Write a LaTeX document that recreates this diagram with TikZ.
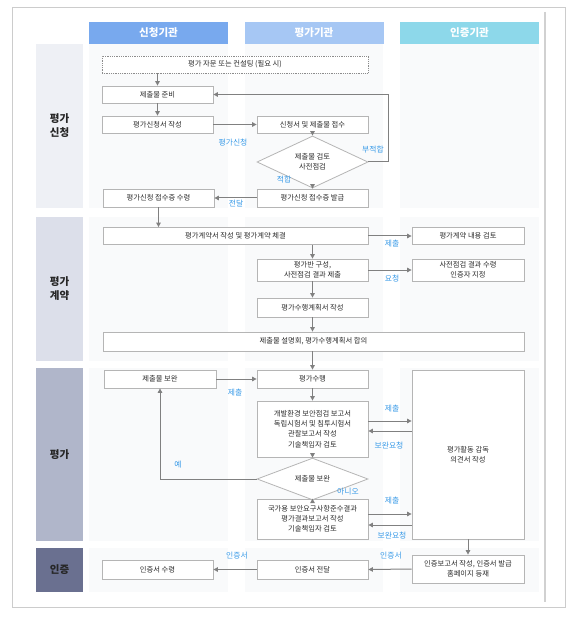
\documentclass[tikz,border=0pt]{standalone}
\usepackage{fontspec}
\setmainfont{Noto Sans CJK KR}
\usetikzlibrary{arrows.meta,shapes.geometric}
\definecolor{hdrA}{HTML}{78A9EE}
\definecolor{hdrB}{HTML}{A6C7F4}
\definecolor{hdrC}{HTML}{8DD8EA}
\definecolor{rowA}{HTML}{EEF0F5}
\definecolor{rowB}{HTML}{DCDFEA}
\definecolor{rowC}{HTML}{B0B6CA}
\definecolor{rowD}{HTML}{6A7090}
\definecolor{cellbg}{HTML}{F9FAFB}
\definecolor{boxline}{HTML}{B5B5B5}
\definecolor{arrowgray}{HTML}{808080}
\definecolor{lblblue}{HTML}{3A9BE8}
\definecolor{txt}{HTML}{2A2A2A}
\tikzset{
  boxnode/.style={draw=boxline, line width=0.8pt, fill=white, inner sep=0pt, align=center,
    text=txt, font=\fontsize{7.3}{10.2}\selectfont},
  dianode/.style={diamond, draw=boxline, line width=0.8pt, fill=white, inner sep=0pt, align=center,
    text=txt, font=\fontsize{7.3}{10.2}\selectfont},
  hdr/.style={inner sep=0pt, minimum width=139pt, minimum height=22pt, text=white,
    font=\fontsize{10.5}{12}\selectfont\bfseries},
  rowlbl/.style={inner sep=0pt, minimum width=47pt, align=center, text=black!85,
    font=\fontsize{10.5}{14}\selectfont\bfseries},
  lbl/.style={inner sep=0pt, text=lblblue, font=\fontsize{7.8}{9}\selectfont},
  arr/.style={draw=arrowgray, line width=1pt, -{Triangle[length=4.5pt,width=4.5pt]}},
}
\begin{document}
\begin{tikzpicture}[x=1pt,y=-1pt]
\useasboundingbox (0,0) rectangle (575,617);
\fill[white] (0,0) rectangle (575,617);
% outer frame
\draw[draw=black!20, line width=1pt] (12,8) rectangle (565,607);
\draw[draw=black!18, line width=1.5pt] (545,12) -- (545,602);
% background cells
\foreach \xa/\xb in {89/228,245/383,400/539}{
  \foreach \ya/\yb in {44/208,217/361,368/541,548/592}{
    \fill[cellbg] (\xa,\ya) rectangle (\xb,\yb);
  }
}
% headers
\node[hdr, fill=hdrA] (h1) at (158.5,33) {신청기관};
\node[hdr, fill=hdrB] (h2) at (314,33) {평가기관};
\node[hdr, fill=hdrC] (h3) at (469.5,33) {인증기관};
% row labels
\node[rowlbl, fill=rowA, minimum height=164pt] (r1) at (59.5,126) {평가\\신청};
\node[rowlbl, fill=rowB, minimum height=144pt] (r2) at (59.5,289) {평가\\계약};
\node[rowlbl, fill=rowC, minimum height=173pt] (r3) at (59.5,454.5) {평가};
\node[rowlbl, fill=rowD, minimum height=44pt] (r4) at (59.5,570) {인증};
% row 1
\node[boxnode, draw=black!45, densely dotted, minimum width=266pt, minimum height=17pt] (consult) at (235,64.5) {평가 자문 또는 컨설팅 (필요 시)};
\node[boxnode, minimum width=111pt, minimum height=17pt] (prep) at (157.5,94.5) {제출물 준비};
\node[boxnode, minimum width=111pt, minimum height=17pt] (appl) at (157.5,124.5) {평가신청서 작성};
\node[boxnode, minimum width=111pt, minimum height=17pt] (recv) at (312.5,124.5) {신청서 및 제출물 접수};
\node[dianode, minimum width=111pt, minimum height=30pt] (chk) at (312.5,162) {제출물 검토\\사전점검};
\node[boxnode, minimum width=111pt, minimum height=18pt] (issue) at (312.5,198) {평가신청 접수증 발급};
\node[boxnode, minimum width=111pt, minimum height=18pt] (rcpt) at (158.5,198) {평가신청 접수증 수령};
% row 2
\node[boxnode, minimum width=265pt, minimum height=17pt] (contract) at (235.5,236) {평가계약서 작성 및 평가계약 체결};
\node[boxnode, minimum width=112pt, minimum height=17pt] (review) at (468,236) {평가계약 내용 검토};
\node[boxnode, minimum width=111pt, minimum height=22pt] (team) at (312.5,270) {평가반 구성,\\사전점검 결과 제출};
\node[boxnode, minimum width=112pt, minimum height=22pt] (designate) at (468,270) {사전점검 결과 수령\\인증자 지정};
\node[boxnode, minimum width=111pt, minimum height=19pt] (plan) at (312.5,307.5) {평가수행계획서 작성};
\node[boxnode, minimum width=421pt, minimum height=19pt] (brief) at (313.5,341.5) {제출물 설명회, 평가수행계획서 합의};
% row 3
\node[boxnode, minimum width=112pt, minimum height=18pt] (supp) at (160,379) {제출물 보완};
\node[boxnode, minimum width=111pt, minimum height=18pt] (perform) at (312.5,379) {평가수행};
\node[boxnode, minimum width=111pt, minimum height=56pt] (reports) at (312.5,429) {개발환경 보안점검 보고서\\독립시험서 및 침투시험서\\관찰보고서 작성\\기술책임자 검토};
\node[boxnode, minimum width=112pt, minimum height=169pt] (supervise) at (468,454.5) {평가활동 감독\\의견서 작성};
\node[dianode, minimum width=111pt, minimum height=22pt] (chk2) at (312.5,479) {제출물 보완};
\node[boxnode, minimum width=111pt, minimum height=40pt] (final) at (312.5,519) {국가용 보안요구사항준수결과\\평가결과보고서 작성\\기술책임자 검토};
% row 4
\node[boxnode, minimum width=112pt, minimum height=28pt] (certreport) at (468,569) {인증보고서 작성, 인증서 발급\\홈페이지 등재};
\node[boxnode, minimum width=111pt, minimum height=19pt] (deliver) at (312.5,569.5) {인증서 전달};
\node[boxnode, minimum width=111pt, minimum height=19pt] (certrecv) at (157.5,569.5) {인증서 수령};
% connectors
\draw[arr] (consult.south -| prep.north) -- (prep.north);
\draw[arr] (prep.south) -- (appl.north);
\draw[arr] (appl.east) -- (recv.west);
\draw[arr] (recv.south) -- (chk.north);
\draw[arr] (chk.east) -- ++(20,0) |- (prep.east);
\draw[arr] (chk.south) -- (issue.north);
\draw[arr] (issue.west) -- (rcpt.east);
\draw[arr] (rcpt.south) -- (rcpt.south |- contract.north);
\draw[arr] (contract.east) -- (review.west);
\draw[arr] (contract.south -| team.north) -- (team.north);
\draw[arr] (team.east) -- (designate.west);
\draw[arr] (team.south) -- (plan.north);
\draw[arr] (plan.south) -- (plan.south |- brief.north);
\draw[arr] (brief.south -| perform.north) -- (perform.north);
\draw[arr] (supp.east) -- (perform.west);
\draw[arr] (perform.south) -- (reports.north);
\draw[arr] (reports.east |- 0,421) -- (supervise.west |- 0,421);
\draw[arr] (supervise.west |- 0,431) -- (reports.east |- 0,431);
\draw[arr] (reports.south) -- (chk2.north);
\draw[arr] (chk2.west) -| (supp.south);
\draw[arr] (chk2.south) -- (final.north);
\draw[arr] (final.east |- 0,514) -- (supervise.west |- 0,514);
\draw[arr] (supervise.west |- 0,525) -- (final.east |- 0,525);
\draw[arr] (supervise.south) -- (certreport.north);
\draw[arr] (certreport.west) -- (deliver.east);
\draw[arr] (deliver.west) -- (certrecv.east);
% labels
\node[lbl] (l1) at (233,143) {평가신청};
\node[lbl] (l2) at (373,150) {부적합};
\node[lbl] (l3) at (284,180) {적합};
\node[lbl] (l4) at (236,204) {전달};
\node[lbl] (l5) at (392,244) {제출};
\node[lbl] (l6) at (392,279) {요청};
\node[lbl] (l7) at (235,393) {제출};
\node[lbl] (l8) at (392,409) {제출};
\node[lbl] (l9) at (389,446) {보완요청};
\node[lbl] (l10) at (178,465) {예};
\node[lbl] (l11) at (348,492) {아니오};
\node[lbl] (l12) at (392,501) {제출};
\node[lbl] (l13) at (392,536) {보완요청};
\node[lbl] (l14) at (237,556) {인증서};
\node[lbl] (l15) at (391,556) {인증서};
\end{tikzpicture}
\end{document}
